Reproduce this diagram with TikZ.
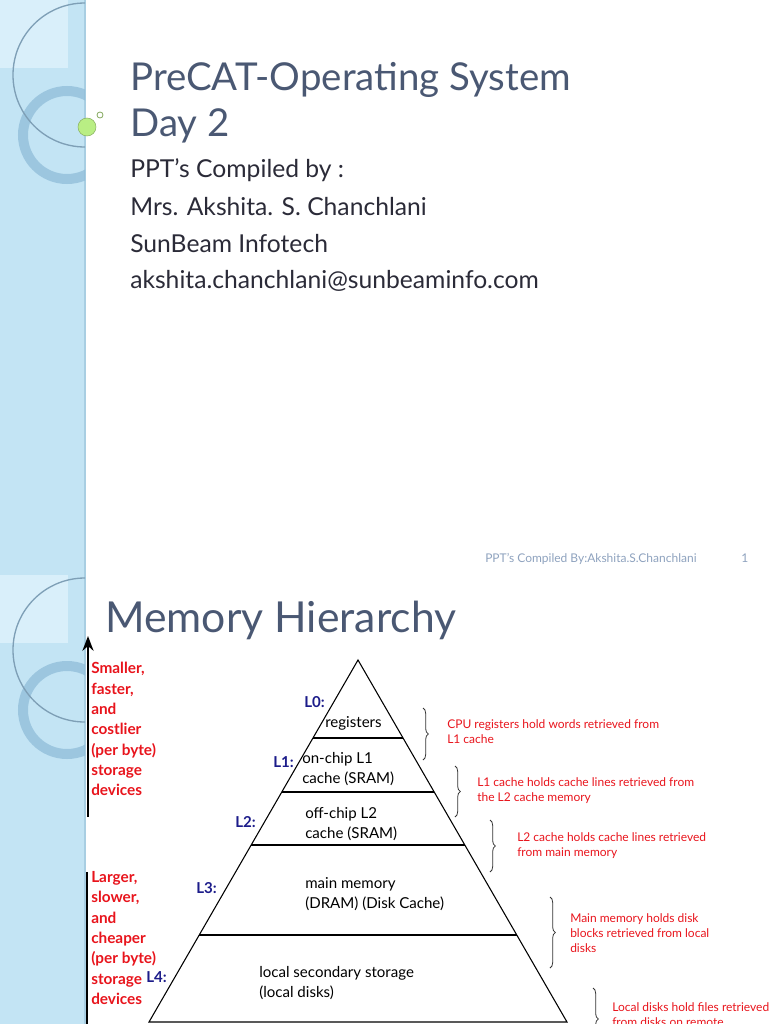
\documentclass[tikz,border=0pt]{standalone}
\usepackage{fontspec}
\setmainfont{Lato}
\usepackage{tikz}
\usetikzlibrary{arrows.meta,decorations.pathreplacing,positioning}
\tikzset{>=Stealth}
\definecolor{BandBg}{HTML}{C3E4F4}
\definecolor{BandLight}{HTML}{D9EFFA}
\definecolor{BandEdge}{HTML}{A8CEE2}
\definecolor{RingBlue}{HTML}{8FBCD8}
\definecolor{CircleLine}{HTML}{7E9FB6}
\definecolor{DotGreen}{HTML}{B9EE84}
\definecolor{TitleSlate}{HTML}{4A5873}
\definecolor{BodyText}{HTML}{2B2B38}
\definecolor{NoteRed}{HTML}{E8141C}
\definecolor{LevelNavy}{HTML}{1C1C8A}
\definecolor{FootGrey}{HTML}{8EA2BE}
\newcommand{\titlefont}{\fontsize{28.8}{32}\selectfont}
\newcommand{\bodyfont}{\fontsize{18.5}{22}\selectfont}
\newcommand{\pyrfont}{\fontsize{11.3}{14.6}\selectfont}
\newcommand{\lvlfont}{\fontsize{11.3}{12}\selectfont\bfseries}
\newcommand{\sidefont}{\fontsize{11.5}{15.25}\selectfont\bfseries}
\newcommand{\notefont}{\fontsize{9}{11.3}\selectfont}
\newcommand{\footfont}{\fontsize{9}{10}\selectfont}

\begin{document}
\begin{tikzpicture}[x=0.75pt,y=-0.75pt,
  pyrline/.style={draw=black, line width=0.8pt},
  pyrtext/.style={font=\pyrfont, text=black, align=left, inner sep=0pt},
  lvl/.style={anchor=base west, font=\lvlfont, text=LevelNavy, inner sep=0pt},
  side/.style={anchor=north west, font=\sidefont, text=NoteRed, align=left, inner sep=0pt},
  note/.style={anchor=west, font=\notefont, text=NoteRed, align=left, inner sep=0pt},
  notebrace/.style={draw=black!80, line width=0.6pt, decorate, decoration={brace, amplitude=4pt}}]
  \useasboundingbox (0,0) rectangle (768,1024);
  % bande laterale
  \fill[BandBg] (0,0) rectangle (85,1024);
  \draw[BandEdge, line width=0.8pt] (85,0) -- (85,1024);
  \begin{scope}
    \clip (0,0) rectangle (85,1024);
    \foreach \oy in {0,575}{
      \fill[BandLight] (0,\oy) rectangle (68,\oy+68);
      \draw[RingBlue, line width=7.5pt, opacity=0.75] (67,\oy+135) circle[radius=44];
      \draw[CircleLine, line width=1pt] (85,\oy+75) circle[radius=72];
    }
  \end{scope}
  \fill[DotGreen, draw=DotGreen!75!black, line width=0.4pt] (87,127) circle[radius=9];
  \draw[DotGreen!70!black, line width=0.6pt] (100,115) circle[radius=3];

  % diapositive 1
  \node[anchor=base west, font=\titlefont, text=TitleSlate, inner sep=0pt] (title) at (130,90) {PreCAT-Operating System};
  \node[anchor=base west, font=\titlefont, text=TitleSlate, inner sep=0pt] (day) at (130,137) {Day 2};
  \foreach \y/\txt/\nm in {177/{PPT's Compiled by :}/comp, 215/{Mrs. Akshita. S. Chanchlani}/mrs,
      252/{SunBeam Infotech}/org, 288/{akshita.chanchlani@sunbeaminfo.com}/mail}
    \node[anchor=base west, font=\bodyfont, text=BodyText, inner sep=0pt] (\nm) at (130,\y) {\txt};
  \node[anchor=base west, font=\footfont, text=FootGrey, inner sep=0pt] (foot) at (485,562) {PPT's Compiled By:Akshita.S.Chanchlani};
  \node[anchor=base west, font=\footfont, text=FootGrey, inner sep=0pt] (pgno) at (741,562) {1};

  % diapositive 2
  \node[anchor=base west, font=\fontsize{32}{36}\selectfont, text=TitleSlate, inner sep=0pt] (memtitle) at (105,632) {Memory Hierarchy};

  \coordinate (uptail) at (88,817);
  \coordinate (uphead) at (88,636);
  \draw[->, line width=1.8pt] (uptail) -- (uphead);
  \coordinate (lotop) at (87,872);
  \coordinate (lobot) at (87,1024);
  \draw[line width=2.2pt] (lotop) -- (lobot);
  \node[side] (fast) at (91,662) {Smaller,\\faster,\\and\\costlier\\(per byte)\\storage\\devices};
  \node[side] (slow) at (91,871) {Larger,\\slower,\\and\\cheaper\\(per byte)\\storage\\devices};

  % pyramide
  \coordinate (apex) at (358,660);
  \coordinate (baseL) at (149,1022);
  \coordinate (baseR) at (567,1022);
  \draw[pyrline] (baseL) -- (apex) -- (baseR) -- cycle;
  \foreach \y/\d in {738/45,792/76,845/107,935/159}
    \draw[pyrline] (358-\d,\y) -- (358+\d,\y);
  \foreach \x/\y/\lab [count=\i from 0] in {304/707/L0:,273/767/L1:,235/827/L2:,196/893/L3:,146/982/L4:}
    \node[lvl] (lvl\i) at (\x,\y) {\lab};
  \node[pyrtext, anchor=base west] (reg) at (325,727) {registers};
  \node[pyrtext, anchor=west] (lone) at (302,769) {on-chip L1\\cache (SRAM)};
  \node[pyrtext, anchor=west] (ltwo) at (305,824) {off-chip L2\\cache (SRAM)};
  \node[pyrtext, anchor=west] (mainmem) at (305,894) {main memory\\(DRAM) (Disk Cache)};
  \node[pyrtext, anchor=west] (localdisk) at (259,983) {local secondary storage\\(local disks)};

  % accolades et notes
  \foreach \bx/\yt/\yb/\nx/\ny/\txt [count=\i from 0] in {
      423/708/760/447/732/{CPU registers hold words retrieved from\\L1 cache},
      455/766/817/477/791/{L1 cache holds cache lines retrieved from\\the L2 cache memory},
      490/820/872/517/846/{L2 cache holds cache lines retrieved\\from main memory},
      550/897/968/570/933/{Main memory holds disk\\blocks retrieved from local\\disks},
      593/988/1050/612/1015/{Local disks hold files retrieved\\from disks on remote}}{
    \coordinate (bt\i) at (\bx,\yt);
    \coordinate (bb\i) at (\bx,\yb);
    \draw[notebrace] (bt\i) -- (bb\i);
    \node[note] (note\i) at (\nx,\ny) {\txt};
  }
\end{tikzpicture}
\end{document}
